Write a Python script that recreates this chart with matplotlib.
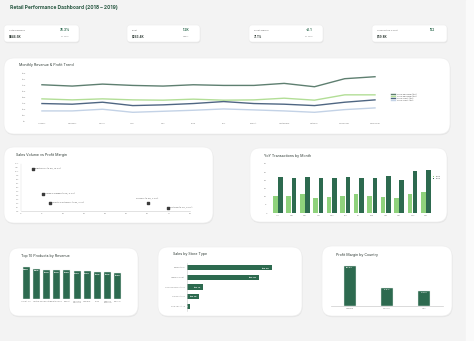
import matplotlib
matplotlib.use("Agg")
import matplotlib.pyplot as plt
from matplotlib.patches import FancyBboxPatch
import numpy as np

# ---------------- data ----------------
months = ["January", "February", "March", "April", "May", "June", "July",
          "August", "September", "October", "November", "December"]
month_abbr = ["Jan", "Feb", "Mar", "Apr", "May", "Jun", "Jul", "Aug", "Sep", "Oct", "Nov", "Dec"]

revenue_2019 = [6.04, 5.82, 6.15, 5.93, 5.82, 6.04, 5.93, 5.93, 6.27, 5.71, 7.05, 7.38]
revenue_2018 = [3.69, 3.52, 3.69, 3.52, 3.47, 3.64, 3.47, 3.52, 3.80, 3.47, 4.36, 4.36]
profit_2019 = [2.91, 2.80, 3.13, 2.57, 2.69, 2.91, 3.24, 2.91, 2.80, 2.57, 3.13, 3.52]
profit_2018 = [1.68, 1.68, 1.96, 1.45, 1.62, 1.79, 2.01, 1.85, 1.68, 1.45, 1.90, 2.18]
trend_labels = ["2019 Revenue ($K)", "2018 Revenue ($K)", "2019 Profit ($K)", "2018 Profit ($K)"]

scatter_names = ["Electronics", "Home & Garden", "Sports & Outdoors", "Grocery", "Clothing"]
scatter_volume = [0.55, 1.03, 1.38, 5.99, 6.94]
scatter_margin = [10.7, 4.3, 2.06, 1.97, 0.86]

tx_2018 = [2.10, 2.10, 2.35, 1.81, 1.98, 2.10, 2.35, 2.10, 1.93, 1.81, 2.35, 2.55]
tx_2019 = [4.40, 4.24, 4.40, 4.32, 4.24, 4.40, 4.32, 4.32, 4.49, 4.07, 5.14, 5.23]

products = ["Smart TV", "Laptop", "Refrigerator", "Smartphone", "Tablet", "Washing\nMachine",
            "Camera", "Sofa", "Gaming\nConsole", "Bicycle"]
product_rev = [96, 91, 87, 87, 86, 83, 83, 81, 81, 78]

store_types = ["Superstore", "Hypermarket", "Convenience Store", "Online Store", "Pop-up Store"]
store_sales = [75.2, 63.8, 14.1, 10.7, 2.9]

countries = ["Canada", "Mexico", "USA"]
country_margin = [38.5, 17.2, 14.6]

kpi_labels = ["Total Revenue", "Profit", "Profit Margin", "Transaction Count"]
kpi_values = ["$846.5K", "$263.4K", "31.1%", "$59.8K"]
kpi_badges = ["76.3%", "1.2K", "+2.1", "122"]
kpi_notes = ["vs 2018", "orders", "vs 2018", ""]

# ---------------- style ----------------
W, H = 474, 341
DARK = "#2d6a4f"
LIGHT = "#8fd27c"
TXT = "#2f3b35"
TICK = "#8a8a8a"
line_colors = ["#5e7f70", "#b2de96", "#4f6682", "#c3d2e6"]

plt.rcParams["font.family"] = ["Inter", "DejaVu Sans"]

fig = plt.figure(figsize=(W / 100, H / 100), dpi=100)
fig.patch.set_facecolor("#f3f3f3")

bg = fig.add_axes([0, 0, 1, 1])
bg.set_xlim(0, W)
bg.set_ylim(H, 0)
bg.axis("off")
bg.add_patch(plt.Rectangle((466, 0), 8, H, color="#fafafa", zorder=0))


def panel(x0, y0, x1, y1, r=9):
    sh = FancyBboxPatch((x0 + 0.5, y0 + 1.2), x1 - x0, y1 - y0,
                        boxstyle=f"round,pad=0,rounding_size={r}",
                        fc="#e6e6e6", ec="none", zorder=1)
    bg.add_patch(sh)
    p = FancyBboxPatch((x0, y0), x1 - x0, y1 - y0,
                       boxstyle=f"round,pad=0,rounding_size={r}",
                       fc="white", ec="#ececec", lw=0.4, zorder=2)
    bg.add_patch(p)


def axrect(x0, y0, x1, y1):
    return fig.add_axes([x0 / W, 1 - y1 / H, (x1 - x0) / W, (y1 - y0) / H])


def clean(ax):
    for s in ax.spines.values():
        s.set_visible(False)
    ax.set_facecolor("none")
    ax.tick_params(length=0, labelsize=1.6, colors=TICK, pad=1.5)


bg.text(10, 8, "Retail Performance Dashboard (2018 – 2019)", fontsize=3.6,
        fontweight="bold", color="#2f5d48", va="center", zorder=5)

# ---------------- KPI cards ----------------
cards = [(4, 79), (127, 200), (249, 323), (372, 447)]
for (cx0, cx1), lab, val, bdg, note in zip(cards, kpi_labels, kpi_values, kpi_badges, kpi_notes):
    panel(cx0, 25, cx1, 42, r=3)
    bg.text(cx0 + 5, 30.5, lab, fontsize=1.7, color="#666666", va="center", zorder=5)
    bg.text(cx0 + 5, 36.5, val, fontsize=2.1, color=TXT, fontweight="bold", va="center", zorder=5)
    bg.text(cx1 - 14, 30, bdg, fontsize=2.3, color=DARK, fontweight="bold", va="center",
            ha="center", zorder=5)
    if note:
        bg.text(cx1 - 14, 36.5, note, fontsize=1.5, color="#888888", va="center",
                ha="center", zorder=5)

# ---------------- monthly trend ----------------
panel(4, 58, 450, 134, r=10)
bg.text(19, 65, "Monthly Revenue & Profit Trend", fontsize=2.6, color=TXT, va="center", zorder=5)
ax1 = axrect(28, 73, 385, 121)
clean(ax1)
x = np.arange(len(months))
series = [revenue_2019, revenue_2018, profit_2019, profit_2018]
for s, c, lab in zip(series, line_colors, trend_labels):
    ax1.plot(x, s, color=c, lw=1.0, label=lab)
ax1.set_xlim(-0.46, 11.33)
ax1.set_ylim(0, 8)
ax1.set_yticks(range(9))
ax1.set_yticklabels(["$0"] + [f"${v}K" for v in range(1, 9)])
ax1.set_xticks(x)
ax1.set_xticklabels(months)
leg = ax1.legend(loc="center left", bbox_to_anchor=(1.015, 0.5), fontsize=1.6, frameon=False,
                 handlelength=1.5, handleheight=0.6, labelspacing=0.25, borderpad=0)
for t in leg.get_texts():
    t.set_color("#555555")

# ---------------- scatter ----------------
panel(4, 147, 213, 223, r=10)
bg.text(16, 155, "Sales Volume vs Profit Margin", fontsize=2.6, color=TXT, va="center", zorder=5)
ax2 = axrect(21, 164, 190, 211)
clean(ax2)
ax2.spines["bottom"].set_visible(True)
ax2.spines["bottom"].set_color("#cccccc")
ax2.spines["bottom"].set_linewidth(0.4)
ax2.spines["left"].set_visible(True)
ax2.spines["left"].set_color("#dddddd")
ax2.spines["left"].set_linewidth(0.3)
ax2.scatter(scatter_volume, scatter_margin, s=1.2, color="#3b3b3b", marker="s", zorder=3)
for i, (nm, vx, vy) in enumerate(zip(scatter_names, scatter_volume, scatter_margin)):
    lbl = f"{nm} ({vx:.1f}K, {vy:.1f}%)"
    if i == 3:
        ax2.annotate(lbl, (vx, vy), xytext=(0, 2.5), textcoords="offset points",
                     fontsize=1.6, color="#555555", ha="center", va="bottom")
    else:
        ax2.annotate(lbl, (vx, vy), xytext=(1.5, 0), textcoords="offset points",
                     fontsize=1.6, color="#555555", ha="left", va="center")
ax2.set_xlim(0, 8)
ax2.set_ylim(0, 12)
ax2.set_xticks(range(9))
ax2.set_xticklabels(["0"] + [f"{v}K" for v in range(1, 9)])
ax2.set_yticks(range(13))
ax2.set_yticklabels([f"{v}%" for v in range(13)])

# ---------------- YoY transactions ----------------
panel(250, 148, 447, 222, r=10)
bg.text(264, 156, "YoY Transactions by Month", fontsize=2.6, color=TXT, va="center", zorder=5)
ax3 = axrect(269, 164, 432, 213)
clean(ax3)
bw = 0.34
ax3.bar(x - 0.2, tx_2018, width=bw, color=LIGHT, label="2018")
ax3.bar(x + 0.2, tx_2019, width=bw, color=DARK, label="2019")
ax3.set_xlim(-0.67, 11.45)
ax3.set_ylim(0, 6)
ax3.set_yticks(range(7))
ax3.set_yticklabels(["0"] + [f"{v}K" for v in range(1, 7)])
ax3.set_xticks(x)
ax3.set_xticklabels(month_abbr)
leg3 = ax3.legend(loc="center left", bbox_to_anchor=(1.0, 0.72), fontsize=1.6, frameon=False,
                  handlelength=0.6, handleheight=0.6, labelspacing=0.2, borderpad=0)
for t in leg3.get_texts():
    t.set_color("#555555")

# ---------------- top 10 products ----------------
panel(9, 248, 138, 316, r=10)
bg.text(21, 256, "Top 10 Products by Revenue", fontsize=2.6, color=TXT, va="center", zorder=5)
ax4 = axrect(20, 262, 124, 299)
clean(ax4)
px = np.arange(len(products))
ax4.bar(px, product_rev, width=0.7, color=DARK, edgecolor="#e8f0ea", linewidth=0.3)
for xi, v in zip(px, product_rev):
    ax4.text(xi, v - 2.5, f"${v}K", fontsize=1.6, color="white", ha="center", va="top",
             fontweight="bold")
ax4.set_xlim(-0.6, 9.6)
ax4.set_ylim(0, 111)
ax4.set_yticks([])
ax4.set_xticks(px)
ax4.set_xticklabels(products)

# ---------------- sales by store type ----------------
panel(158, 247, 302, 316, r=10)
bg.text(173, 254, "Sales by Store Type", fontsize=2.6, color=TXT, va="center", zorder=5)
ax5 = axrect(187, 263, 300, 311)
clean(ax5)
sy = np.arange(len(store_types))
ax5.barh(sy, store_sales, height=0.55, color=DARK)
for yi, v in zip(sy, store_sales):
    ax5.text(v - 1.5, yi, f"${v:.1f}K", fontsize=1.6, color="white", ha="right", va="center",
             fontweight="bold")
ax5.set_ylim(4.5, -0.5)
ax5.set_xlim(0, 100)
ax5.set_xticks([])
ax5.set_yticks(sy)
ax5.set_yticklabels(store_types)
ax5.spines["left"].set_visible(True)
ax5.spines["left"].set_color("#cccccc")
ax5.spines["left"].set_linewidth(0.4)

# ---------------- profit margin by country ----------------
panel(322, 246, 452, 316, r=10)
bg.text(336, 255, "Profit Margin by Country", fontsize=2.6, color=TXT, va="center", zorder=5)
ax6 = axrect(331, 260, 443, 306)
clean(ax6)
cx = np.arange(len(countries))
ax6.bar(cx, country_margin, width=0.32, color=DARK, edgecolor="#e8f0ea", linewidth=0.3)
for xi, v in zip(cx, country_margin):
    ax6.text(xi, v - 1.0, f"{v:.1f}%", fontsize=1.6, color="white", ha="center", va="top",
             fontweight="bold")
ax6.set_xlim(-0.51, 2.51)
ax6.set_ylim(0, 44)
ax6.set_yticks([])
ax6.set_xticks(cx)
ax6.set_xticklabels(countries)
ax6.spines["bottom"].set_visible(True)
ax6.spines["bottom"].set_color("#cccccc")
ax6.spines["bottom"].set_linewidth(0.5)

fig.savefig("out.png", dpi=100, facecolor=fig.get_facecolor())
